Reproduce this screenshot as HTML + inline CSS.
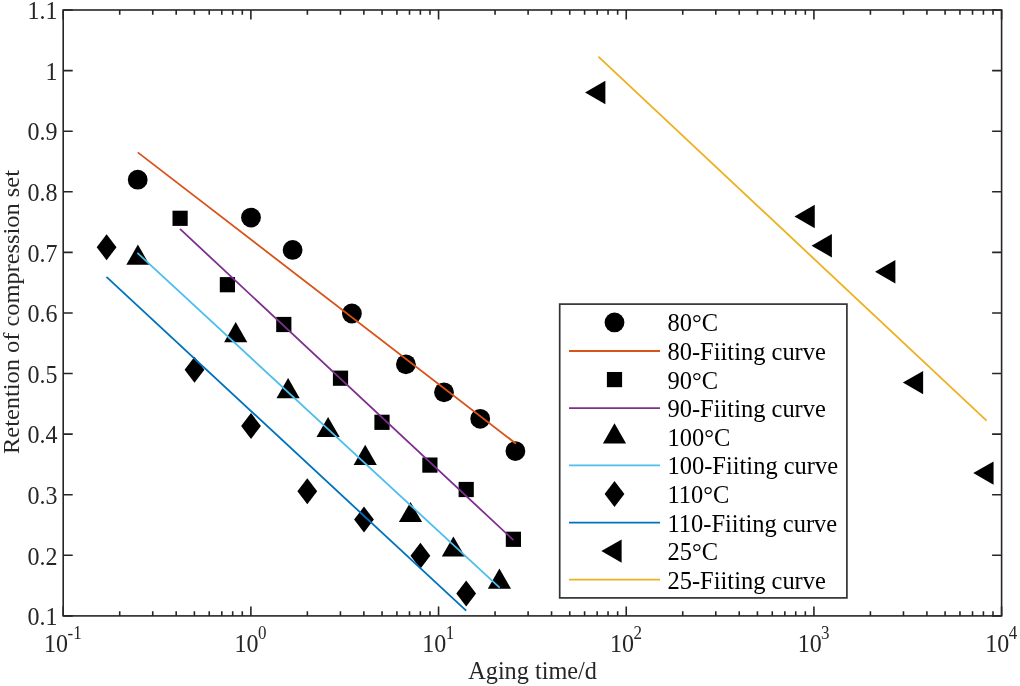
<!DOCTYPE html>
<html><head><meta charset="utf-8"><style>
html,body{margin:0;padding:0;background:#fff;}
svg{display:block;will-change:transform;}
.t{font-family:"Liberation Serif",serif;font-size:24px;fill:#000;}
.sup{font-size:17px;}
.g{fill:#262626;}
</style></head><body>
<svg width="1020" height="686" viewBox="0 0 1020 686">
<rect width="1020" height="686" fill="#fff"/>
<path d="M63.20 615.9V606.40M63.20 10.0V19.50M119.70 615.9V611.20M119.70 10.0V14.70M152.75 615.9V611.20M152.75 10.0V14.70M176.19 615.9V611.20M176.19 10.0V14.70M194.38 615.9V611.20M194.38 10.0V14.70M209.24 615.9V611.20M209.24 10.0V14.70M221.81 615.9V611.20M221.81 10.0V14.70M232.69 615.9V611.20M232.69 10.0V14.70M242.29 615.9V611.20M242.29 10.0V14.70M250.88 615.9V606.40M250.88 10.0V19.50M307.38 615.9V611.20M307.38 10.0V14.70M340.43 615.9V611.20M340.43 10.0V14.70M363.87 615.9V611.20M363.87 10.0V14.70M382.06 615.9V611.20M382.06 10.0V14.70M396.92 615.9V611.20M396.92 10.0V14.70M409.49 615.9V611.20M409.49 10.0V14.70M420.37 615.9V611.20M420.37 10.0V14.70M429.97 615.9V611.20M429.97 10.0V14.70M438.56 615.9V606.40M438.56 10.0V19.50M495.06 615.9V611.20M495.06 10.0V14.70M528.11 615.9V611.20M528.11 10.0V14.70M551.55 615.9V611.20M551.55 10.0V14.70M569.74 615.9V611.20M569.74 10.0V14.70M584.60 615.9V611.20M584.60 10.0V14.70M597.17 615.9V611.20M597.17 10.0V14.70M608.05 615.9V611.20M608.05 10.0V14.70M617.65 615.9V611.20M617.65 10.0V14.70M626.24 615.9V606.40M626.24 10.0V19.50M682.74 615.9V611.20M682.74 10.0V14.70M715.79 615.9V611.20M715.79 10.0V14.70M739.23 615.9V611.20M739.23 10.0V14.70M757.42 615.9V611.20M757.42 10.0V14.70M772.28 615.9V611.20M772.28 10.0V14.70M784.85 615.9V611.20M784.85 10.0V14.70M795.73 615.9V611.20M795.73 10.0V14.70M805.33 615.9V611.20M805.33 10.0V14.70M813.92 615.9V606.40M813.92 10.0V19.50M870.42 615.9V611.20M870.42 10.0V14.70M903.47 615.9V611.20M903.47 10.0V14.70M926.91 615.9V611.20M926.91 10.0V14.70M945.10 615.9V611.20M945.10 10.0V14.70M959.96 615.9V611.20M959.96 10.0V14.70M972.53 615.9V611.20M972.53 10.0V14.70M983.41 615.9V611.20M983.41 10.0V14.70M993.01 615.9V611.20M993.01 10.0V14.70M1001.60 615.9V606.40M1001.60 10.0V19.50M63.2 615.90H72.70M1001.6 615.90H992.10M63.2 555.31H72.70M1001.6 555.31H992.10M63.2 494.72H72.70M1001.6 494.72H992.10M63.2 434.13H72.70M1001.6 434.13H992.10M63.2 373.54H72.70M1001.6 373.54H992.10M63.2 312.95H72.70M1001.6 312.95H992.10M63.2 252.36H72.70M1001.6 252.36H992.10M63.2 191.77H72.70M1001.6 191.77H992.10M63.2 131.18H72.70M1001.6 131.18H992.10M63.2 70.59H72.70M1001.6 70.59H992.10M63.2 10.00H72.70M1001.6 10.00H992.10" stroke="#262626" stroke-width="1.6" fill="none"/>
<rect x="63.2" y="10.0" width="938.4" height="605.9" stroke="#262626" stroke-width="1.6" fill="none"/>
<text transform="translate(57.50 625.10) scale(1.0 1.07)" text-anchor="end" class="t g">0.1</text>
<text transform="translate(57.50 564.51) scale(1.0 1.07)" text-anchor="end" class="t g">0.2</text>
<text transform="translate(57.50 503.92) scale(1.0 1.07)" text-anchor="end" class="t g">0.3</text>
<text transform="translate(57.50 443.33) scale(1.0 1.07)" text-anchor="end" class="t g">0.4</text>
<text transform="translate(57.50 382.74) scale(1.0 1.07)" text-anchor="end" class="t g">0.5</text>
<text transform="translate(57.50 322.15) scale(1.0 1.07)" text-anchor="end" class="t g">0.6</text>
<text transform="translate(57.50 261.56) scale(1.0 1.07)" text-anchor="end" class="t g">0.7</text>
<text transform="translate(57.50 200.97) scale(1.0 1.07)" text-anchor="end" class="t g">0.8</text>
<text transform="translate(57.50 140.38) scale(1.0 1.07)" text-anchor="end" class="t g">0.9</text>
<text transform="translate(57.50 79.79) scale(1.0 1.07)" text-anchor="end" class="t g">1</text>
<text transform="translate(57.50 19.20) scale(1.0 1.07)" text-anchor="end" class="t g">1.1</text>
<text transform="translate(62.90 651.50) scale(1.0 1.07)" text-anchor="middle" class="t g">10<tspan class="sup" dx="-0.5" dy="-11.5">-1</tspan></text>
<text transform="translate(250.58 651.50) scale(1.0 1.07)" text-anchor="middle" class="t g">10<tspan class="sup" dx="-0.5" dy="-11.5">0</tspan></text>
<text transform="translate(438.26 651.50) scale(1.0 1.07)" text-anchor="middle" class="t g">10<tspan class="sup" dx="-0.5" dy="-11.5">1</tspan></text>
<text transform="translate(625.94 651.50) scale(1.0 1.07)" text-anchor="middle" class="t g">10<tspan class="sup" dx="-0.5" dy="-11.5">2</tspan></text>
<text transform="translate(813.62 651.50) scale(1.0 1.07)" text-anchor="middle" class="t g">10<tspan class="sup" dx="-0.5" dy="-11.5">3</tspan></text>
<text transform="translate(1001.30 651.50) scale(1.0 1.07)" text-anchor="middle" class="t g">10<tspan class="sup" dx="-0.5" dy="-11.5">4</tspan></text>
<text transform="translate(532.60 678.70) scale(1.012 1.07)" text-anchor="middle" class="t g">Aging time/d</text>
<text transform="translate(18.8 312) rotate(-90) scale(1.017 1.0)" text-anchor="middle" class="t g">Retention of compression set</text>
<g fill="#000"><circle cx="137.7" cy="179.70" r="9.9"/><circle cx="251" cy="217.60" r="9.9"/><circle cx="292.6" cy="249.90" r="9.9"/><circle cx="351.9" cy="313.50" r="9.9"/><circle cx="405.9" cy="364.30" r="9.9"/><circle cx="444" cy="392.30" r="9.9"/><circle cx="480.2" cy="418.80" r="9.9"/><circle cx="515.4" cy="451.10" r="9.9"/></g>
<line x1="138.4" y1="152.9" x2="515.4" y2="443.2" stroke="#D95319" stroke-width="1.8" stroke-linecap="round"/>
<g fill="#000"><rect x="172.50" y="210.70" width="15.2" height="15.2"/><rect x="219.80" y="277.10" width="15.2" height="15.2"/><rect x="276.20" y="316.90" width="15.2" height="15.2"/><rect x="332.90" y="370.60" width="15.2" height="15.2"/><rect x="374.40" y="414.70" width="15.2" height="15.2"/><rect x="422.30" y="457.50" width="15.2" height="15.2"/><rect x="458.60" y="481.90" width="15.2" height="15.2"/><rect x="505.80" y="531.70" width="15.2" height="15.2"/></g>
<line x1="180.5" y1="229.4" x2="512.9" y2="539.6" stroke="#7E2F8E" stroke-width="1.8" stroke-linecap="round"/>
<g fill="#000"><path d="M137.90 244.60L149.50 264.80H126.30Z"/><path d="M235.70 322.10L247.30 342.30H224.10Z"/><path d="M288.10 378.10L299.70 398.30H276.50Z"/><path d="M328.10 416.90L339.70 437.10H316.50Z"/><path d="M365.20 444.70L376.80 464.90H353.60Z"/><path d="M410.50 501.90L422.10 522.10H398.90Z"/><path d="M453.40 536.40L465.00 556.60H441.80Z"/><path d="M499.40 568.50L511.00 588.70H487.80Z"/></g>
<line x1="137.9" y1="253.4" x2="499.1" y2="587.2" stroke="#4DBEEE" stroke-width="1.8" stroke-linecap="round"/>
<g fill="#000"><path d="M106.60 234.20L116.50 247.20L106.60 260.20L96.70 247.20Z"/><path d="M194.50 356.70L204.40 369.70L194.50 382.70L184.60 369.70Z"/><path d="M251.00 413.00L260.90 426.00L251.00 439.00L241.10 426.00Z"/><path d="M307.30 478.30L317.20 491.30L307.30 504.30L297.40 491.30Z"/><path d="M364.00 506.60L373.90 519.60L364.00 532.60L354.10 519.60Z"/><path d="M420.40 542.80L430.30 555.80L420.40 568.80L410.50 555.80Z"/><path d="M466.20 580.40L476.10 593.40L466.20 606.40L456.30 593.40Z"/></g>
<line x1="107.0" y1="277.4" x2="465.6" y2="610.2" stroke="#0072BD" stroke-width="1.8" stroke-linecap="round"/>
<g fill="#000"><path d="M585.05 92.50L605.35 80.80V104.20Z"/><path d="M794.45 216.50L814.75 204.80V228.20Z"/><path d="M811.55 245.70L831.85 234.00V257.40Z"/><path d="M875.05 271.80L895.35 260.10V283.50Z"/><path d="M902.85 382.60L923.15 370.90V394.30Z"/><path d="M973.25 473.10L993.55 461.40V484.80Z"/></g>
<line x1="598.9" y1="57.1" x2="986.0" y2="420.2" stroke="#EDB120" stroke-width="1.8" stroke-linecap="round"/>
<rect x="559.7" y="304.1" width="287.19999999999993" height="293.79999999999995" fill="#fff" stroke="#333" stroke-width="1.7"/>
<text transform="translate(667.50 331.40) scale(1.02 1.07)" text-anchor="start" class="t">80°C</text>
<line x1="569" y1="350.99" x2="660" y2="350.99" stroke="#D95319" stroke-width="1.8"/>
<text transform="translate(667.50 359.99) scale(1.02 1.07)" text-anchor="start" class="t">80-Fiiting curve</text>
<text transform="translate(667.50 388.58) scale(1.02 1.07)" text-anchor="start" class="t">90°C</text>
<line x1="569" y1="408.17" x2="660" y2="408.17" stroke="#7E2F8E" stroke-width="1.8"/>
<text transform="translate(667.50 417.17) scale(1.02 1.07)" text-anchor="start" class="t">90-Fiiting curve</text>
<text transform="translate(667.50 445.76) scale(1.02 1.07)" text-anchor="start" class="t">100°C</text>
<line x1="569" y1="465.35" x2="660" y2="465.35" stroke="#4DBEEE" stroke-width="1.8"/>
<text transform="translate(667.50 474.35) scale(1.02 1.07)" text-anchor="start" class="t">100-Fiiting curve</text>
<text transform="translate(667.50 502.94) scale(1.02 1.07)" text-anchor="start" class="t">110°C</text>
<line x1="569" y1="522.53" x2="660" y2="522.53" stroke="#0072BD" stroke-width="1.8"/>
<text transform="translate(667.50 531.53) scale(1.02 1.07)" text-anchor="start" class="t">110-Fiiting curve</text>
<text transform="translate(667.50 560.12) scale(1.02 1.07)" text-anchor="start" class="t">25°C</text>
<line x1="569" y1="579.71" x2="660" y2="579.71" stroke="#EDB120" stroke-width="1.8"/>
<text transform="translate(667.50 588.71) scale(1.02 1.07)" text-anchor="start" class="t">25-Fiiting curve</text>
<g fill="#000"><circle cx="614.5" cy="322.40" r="9.9"/><rect x="606.90" y="371.98" width="15.2" height="15.2"/><path d="M614.50 423.36L626.10 443.56H602.90Z"/><path d="M614.50 480.94L624.40 493.94L614.50 506.94L604.60 493.94Z"/><path d="M601.35 551.12L621.65 539.42V562.82Z"/></g>
</svg></body></html>
